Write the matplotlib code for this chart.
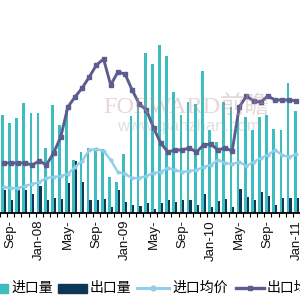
import numpy as np
import matplotlib
matplotlib.use("Agg")
import matplotlib.pyplot as plt
from matplotlib.patches import Rectangle
from matplotlib.lines import Line2D

plt.rcParams['font.family'] = ['Liberation Sans', 'Noto Sans CJK SC', 'DejaVu Sans']

# ---- data (months Aug-07 .. Jan-11, arbitrary units) ----
months = ["2007-08", "2007-09", "2007-10", "2007-11", "2007-12",
          "2008-01", "2008-02", "2008-03", "2008-04", "2008-05", "2008-06",
          "2008-07", "2008-08", "2008-09", "2008-10", "2008-11", "2008-12",
          "2009-01", "2009-02", "2009-03", "2009-04", "2009-05", "2009-06",
          "2009-07", "2009-08", "2009-09", "2009-10", "2009-11", "2009-12",
          "2010-01", "2010-02", "2010-03", "2010-04", "2010-05", "2010-06",
          "2010-07", "2010-08", "2010-09", "2010-10", "2010-11", "2010-12",
          "2011-01"]

import_volume = [98, 90, 95, 110, 100, 100, 65, 108, 88, 103, 53, 61, 65, 63,
                 64, 36, 31, 59, 97, 115, 160, 149, 168, 157, 121, 98, 111, 109,
                 142, 83, 71, 111, 106, 108, 96, 83, 96, 98, 84, 83, 130, 102]

export_volume = [23, 13, 23, 23, 19, 27, 13, 15, 14, 30, 52, 31, 13, 13,
                 14, 6, 23, 11, 8, 7, 10, 4, 10, 13, 11, 13, 13, 8,
                 19, 6, 12, 14, 6, 24, 16, 13, 21, 17, 8, 15, 15, 15]

import_price = [26, 25, 25, 27, 29, 31, 35, 36, 37, 39, 46, 52, 63, 64,
                62, 53, 41, 39, 35, 35, 37, 40, 41, 45, 43, 41, 42, 43,
                46, 48, 53, 50, 49, 51, 47, 51, 55, 58, 63, 58, 56, 59]

export_price = [50, 50, 50, 50, 48, 52, 48, 60, 76, 106, 116, 125, 136, 148,
                154, 128, 141, 139, 123, 109, 103, 85, 70, 61, 63, 63, 65, 61,
                68, 69, 63, 65, 62, 106, 117, 112, 111, 117, 113, 113, 113, 112]

tick_pos = [1, 5, 9, 13, 17, 21, 25, 29, 33, 37, 41]
tick_labels = ["Sep-", "Jan-08", "May-", "Sep-", "Jan-09", "May-", "Sep-",
               "Jan-10", "May-", "Sep-", "Jan-11"]

series_names = ["进口量", "出口量", "进口均价", "出口均价"]

c_imp = "#3dbdbd"
c_exp = "#0c3757"
c_iprice = "#92cdea"
c_eprice = "#5d5c8f"

fig = plt.figure(figsize=(3, 3), dpi=100)
ax = fig.add_axes([0, 87 / 300, 1, 213 / 300])
x = np.arange(len(months))
ax.bar(x - 0.17, import_volume, width=0.38, color=c_imp, zorder=2)
ax.bar(x + 0.17, export_volume, width=0.30, color=c_exp, zorder=2)
ax.set_xlim(-0.18, 41.26)
ax.set_ylim(0, 213)

ax2 = ax.twinx()
ax2.plot(x, import_price, color=c_iprice, lw=1.7, marker='o', ms=2.0, zorder=3)
ax2.plot(x, export_price, color=c_eprice, lw=2.1, marker='s', ms=2.2, zorder=4)
ax2.set_ylim(0, 213)
ax2.set_yticks([])

for a in (ax, ax2):
    for s in ("top", "left", "right"):
        a.spines[s].set_visible(False)
    a.patch.set_visible(False)
ax2.spines["bottom"].set_visible(False)
ax.spines["bottom"].set_linewidth(1.3)
ax.spines["bottom"].set_color("black")
ax.set_yticks([])
ax.set_xticks(tick_pos)
ax.set_xticklabels(tick_labels, rotation=90, fontsize=9.5, color="#111111")
ax.tick_params(axis='x', which='major', length=0, pad=5)
ax.set_xticks(np.arange(-0.5, 42, 1), minor=True)
ax.tick_params(axis='x', which='minor', length=3, width=0.8, color="black")

# watermark
fig.text(0.62, 1 - 107 / 300, "FORWARD前瞻", ha='center', va='center',
         fontsize=17.5, family=['Liberation Serif', 'Noto Sans CJK SC'],
         color="#b89a9a", alpha=0.38, zorder=10)
fig.text(0.63, 1 - 127 / 300, "www.qianzhan.com", ha='center', va='center',
         fontsize=12, color="#9aaabb", alpha=0.35, zorder=10)

# legend (manual, bottom row)
lg = fig.add_axes([0, 0, 1, 1])
lg.set_xlim(0, 300)
lg.set_ylim(300, 0)
lg.axis('off')
yl = 288
lg.add_patch(Rectangle((-21, yl - 4.5), 29, 9, color=c_imp))
lg.text(11, yl, series_names[0], fontsize=10, va='center', family=['Noto Sans CJK SC'])
lg.add_patch(Rectangle((58, yl - 4.5), 29, 9, color=c_exp))
lg.text(90, yl, series_names[1], fontsize=10, va='center', family=['Noto Sans CJK SC'])
lg.add_line(Line2D([137, 169], [yl, yl], color=c_iprice, lw=2.2))
lg.plot([153], [yl], marker='o', color=c_iprice, ms=3.5)
lg.text(172, yl, series_names[2], fontsize=10, va='center', family=['Noto Sans CJK SC'])
lg.add_line(Line2D([236, 264], [yl, yl], color=c_eprice, lw=2.4))
lg.plot([250], [yl], marker='s', color=c_eprice, ms=3.5)
lg.text(267, yl, series_names[3], fontsize=10, va='center', family=['Noto Sans CJK SC'])

fig.savefig("out.png", dpi=100)
